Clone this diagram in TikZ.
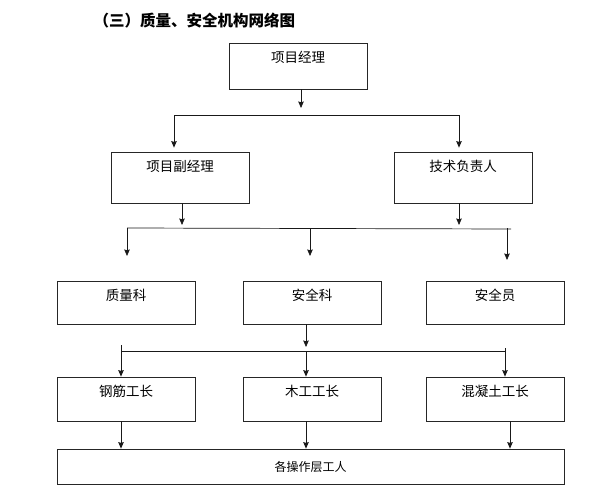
\documentclass[tikz,border=0pt]{standalone}
\usepackage{fontspec}
\newfontfamily\cjk{Noto Sans CJK SC}
\usetikzlibrary{calc,arrows.meta}

\tikzset{
  unit/.style={draw=black!85, line width=0.8pt, minimum width=138pt,
    inner xsep=0pt, inner ysep=0pt, text height=19pt,
    font=\cjk\fontsize{13.5}{16}\selectfont},
  link/.style={-{Stealth[length=6.5pt,width=5.5pt,inset=0.8pt]}, line width=0.7pt, black!90},
  bus/.style={line width=0.7pt, black!90},
}

\begin{document}
\begin{tikzpicture}[x=1pt,y=-1pt]
  \useasboundingbox (0,0) rectangle (598,493);
  % title
  \node[anchor=west, font=\cjk\bfseries\fontsize{15.5}{18}\selectfont] (title) at (90,21) {（三）质量、安全机构网络图};

  % boxes
  \node[unit, text depth=27pt] (pm)   at (298,66)    {项目经理};
  \node[unit, text depth=32pt] (dpm)  at (180,177.5) {项目副经理};
  \node[unit, text depth=32pt] (tech) at (463,177.5) {技术负责人};

  \node[unit, text depth=24pt] (qc)   at (126,302.5) {质量科};
  \node[unit, text depth=24pt] (sd)   at (312,302.5) {安全科};
  \node[unit, text depth=24pt] (so)   at (495,302.5) {安全员};

  \node[unit, text depth=25pt] (fm1)  at (126,399) {钢筋工长};
  \node[unit, text depth=25pt] (fm2)  at (312,399) {木工工长};
  \node[unit, text depth=25pt] (fm3)  at (495,399) {混凝土工长};

  \node[unit, minimum width=507pt, minimum height=35pt, text height=, text depth=,
        inner ysep=0pt, font=\cjk\fontsize{12}{14}\selectfont] (crew) at (310.5,466.5) {各操作层工人};

  % bus lines
  \coordinate (t1) at (301,108);
  \coordinate (b1w) at (174,115);
  \coordinate (b1e) at (459,115);
  \coordinate (b2w) at (127,228);
  \coordinate (b2e) at (511,229);
  \coordinate (a1) at (127,256);
  \coordinate (a2) at (310,256);
  \coordinate (a3) at (507,260);
  \coordinate (q1) at (121,345);
  \coordinate (q2) at (306,351);
  \coordinate (q3) at (505,348);

  \draw[link] (pm.south -| t1) -- (t1);
  \draw[bus] (b1w) -- (b1e);
  \draw[link, shorten >=4pt] (b1w) -- (b1w |- dpm.north);
  \draw[link, shorten >=4pt] (b1e) -- (b1e |- tech.north);

  \draw[link, shorten >=3pt] ([xshift=2pt]dpm.south) -- ([xshift=2pt]dpm.south |- b2w);
  \draw[link, shorten >=3pt] ([xshift=-4pt]tech.south) -- ([xshift=-4pt]tech.south |- b2w);
  \draw[bus] (b2w) -- (b2e);
  \draw[link] (b2w) -- (a1);
  \draw[link] (a2 |- b2w) -- (a2);
  \draw[link] (a3 |- b2w) -- (a3);

  \draw[link, shorten >=4pt] (sd.south -| q2) -- (q2);
  \draw[bus] (q1 |- q2) -- (q3 |- q2);
  \draw[link] (q1) -- (q1 |- fm1.north);
  \draw[link] (q2) -- (q2 |- fm2.north);
  \draw[link] (q3) -- (q3 |- fm3.north);

  \draw[link] ([xshift=-5pt]fm1.south) -- ([xshift=-5pt]fm1.south |- crew.north);
  \draw[link] ([xshift=-6pt]fm2.south) -- ([xshift=-6pt]fm2.south |- crew.north);
  \draw[link] ([xshift=15pt]fm3.south) -- ([xshift=15pt]fm3.south |- crew.north);
\end{tikzpicture}
\end{document}
